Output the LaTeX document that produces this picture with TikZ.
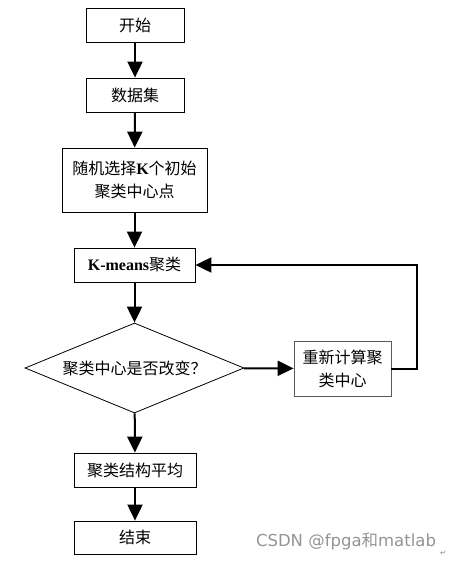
\documentclass[tikz,border=0pt]{standalone}
\usepackage{fontspec}
\setmainfont{Liberation Serif}
\newfontfamily\cjk{Noto Sans CJK SC}
\newfontfamily\dejavu{DejaVu Sans}
\usetikzlibrary{shapes.geometric,arrows.meta}
\tikzset{
  procbox/.style={draw=black,line width=0.8pt,rectangle,inner sep=0pt,align=center,
    font=\cjk\fontsize{16}{23}\selectfont},
  decbox/.style={draw=black,line width=0.8pt,diamond,inner sep=0pt,aspect=2.43,
    minimum width=219pt,minimum height=90pt,font=\cjk\fontsize{16}{23}\selectfont},
  flow/.style={line width=2pt,-{Triangle[width=15pt,length=16pt]}},
}
\begin{document}
\begin{tikzpicture}[x=1pt,y=-1pt]
\useasboundingbox (0,0) rectangle (452,561);
\node[procbox,minimum width=98pt,minimum height=34pt] (start) at (135,25) {开始};
\node[procbox,minimum width=98pt,minimum height=34pt] (data) at (135,95) {数据集};
\node[procbox,minimum width=145pt,minimum height=64pt] (rand) at (134.5,180)
  {随机选择{\rmfamily\bfseries K}个初始\\聚类中心点};
\node[procbox,minimum width=121pt,minimum height=34pt] (km) at (134.5,265)
  {{\rmfamily\bfseries K-means}聚类};
\node[decbox] (dec) at (134.5,368) {聚类中心是否改变？};
\node[procbox,draw=black!65,minimum width=97pt,minimum height=55pt] (re) at (342.5,368.5)
  {重新计算聚\\类中心};
\node[procbox,minimum width=122pt,minimum height=34pt] (avg) at (135,470) {聚类结构平均};
\node[procbox,minimum width=122pt,minimum height=33pt] (end) at (135,537.5) {结束};
\coordinate (fb) at (417,265);
\draw[flow] (start) -- (data);
\draw[flow] (data) -- (rand);
\draw[flow] (rand) -- (km);
\draw[flow] (km) -- (dec);
\draw[flow] (dec) -- (re);
\draw[flow] (re.east) -| (fb) -- (km.east);
\draw[flow] (dec) -- (avg);
\draw[flow] (avg) -- (end);
\node[text=black!42,font=\dejavu\fontsize{16.5}{18}\selectfont,inner sep=0pt] (wm) at (346,541)
  {CSDN @fpga{\cjk 和}matlab};
\node[text=black!50,font=\dejavu\fontsize{7}{8}\selectfont,inner sep=0pt] (ret) at (443,553) {↵};
\end{tikzpicture}
\end{document}
